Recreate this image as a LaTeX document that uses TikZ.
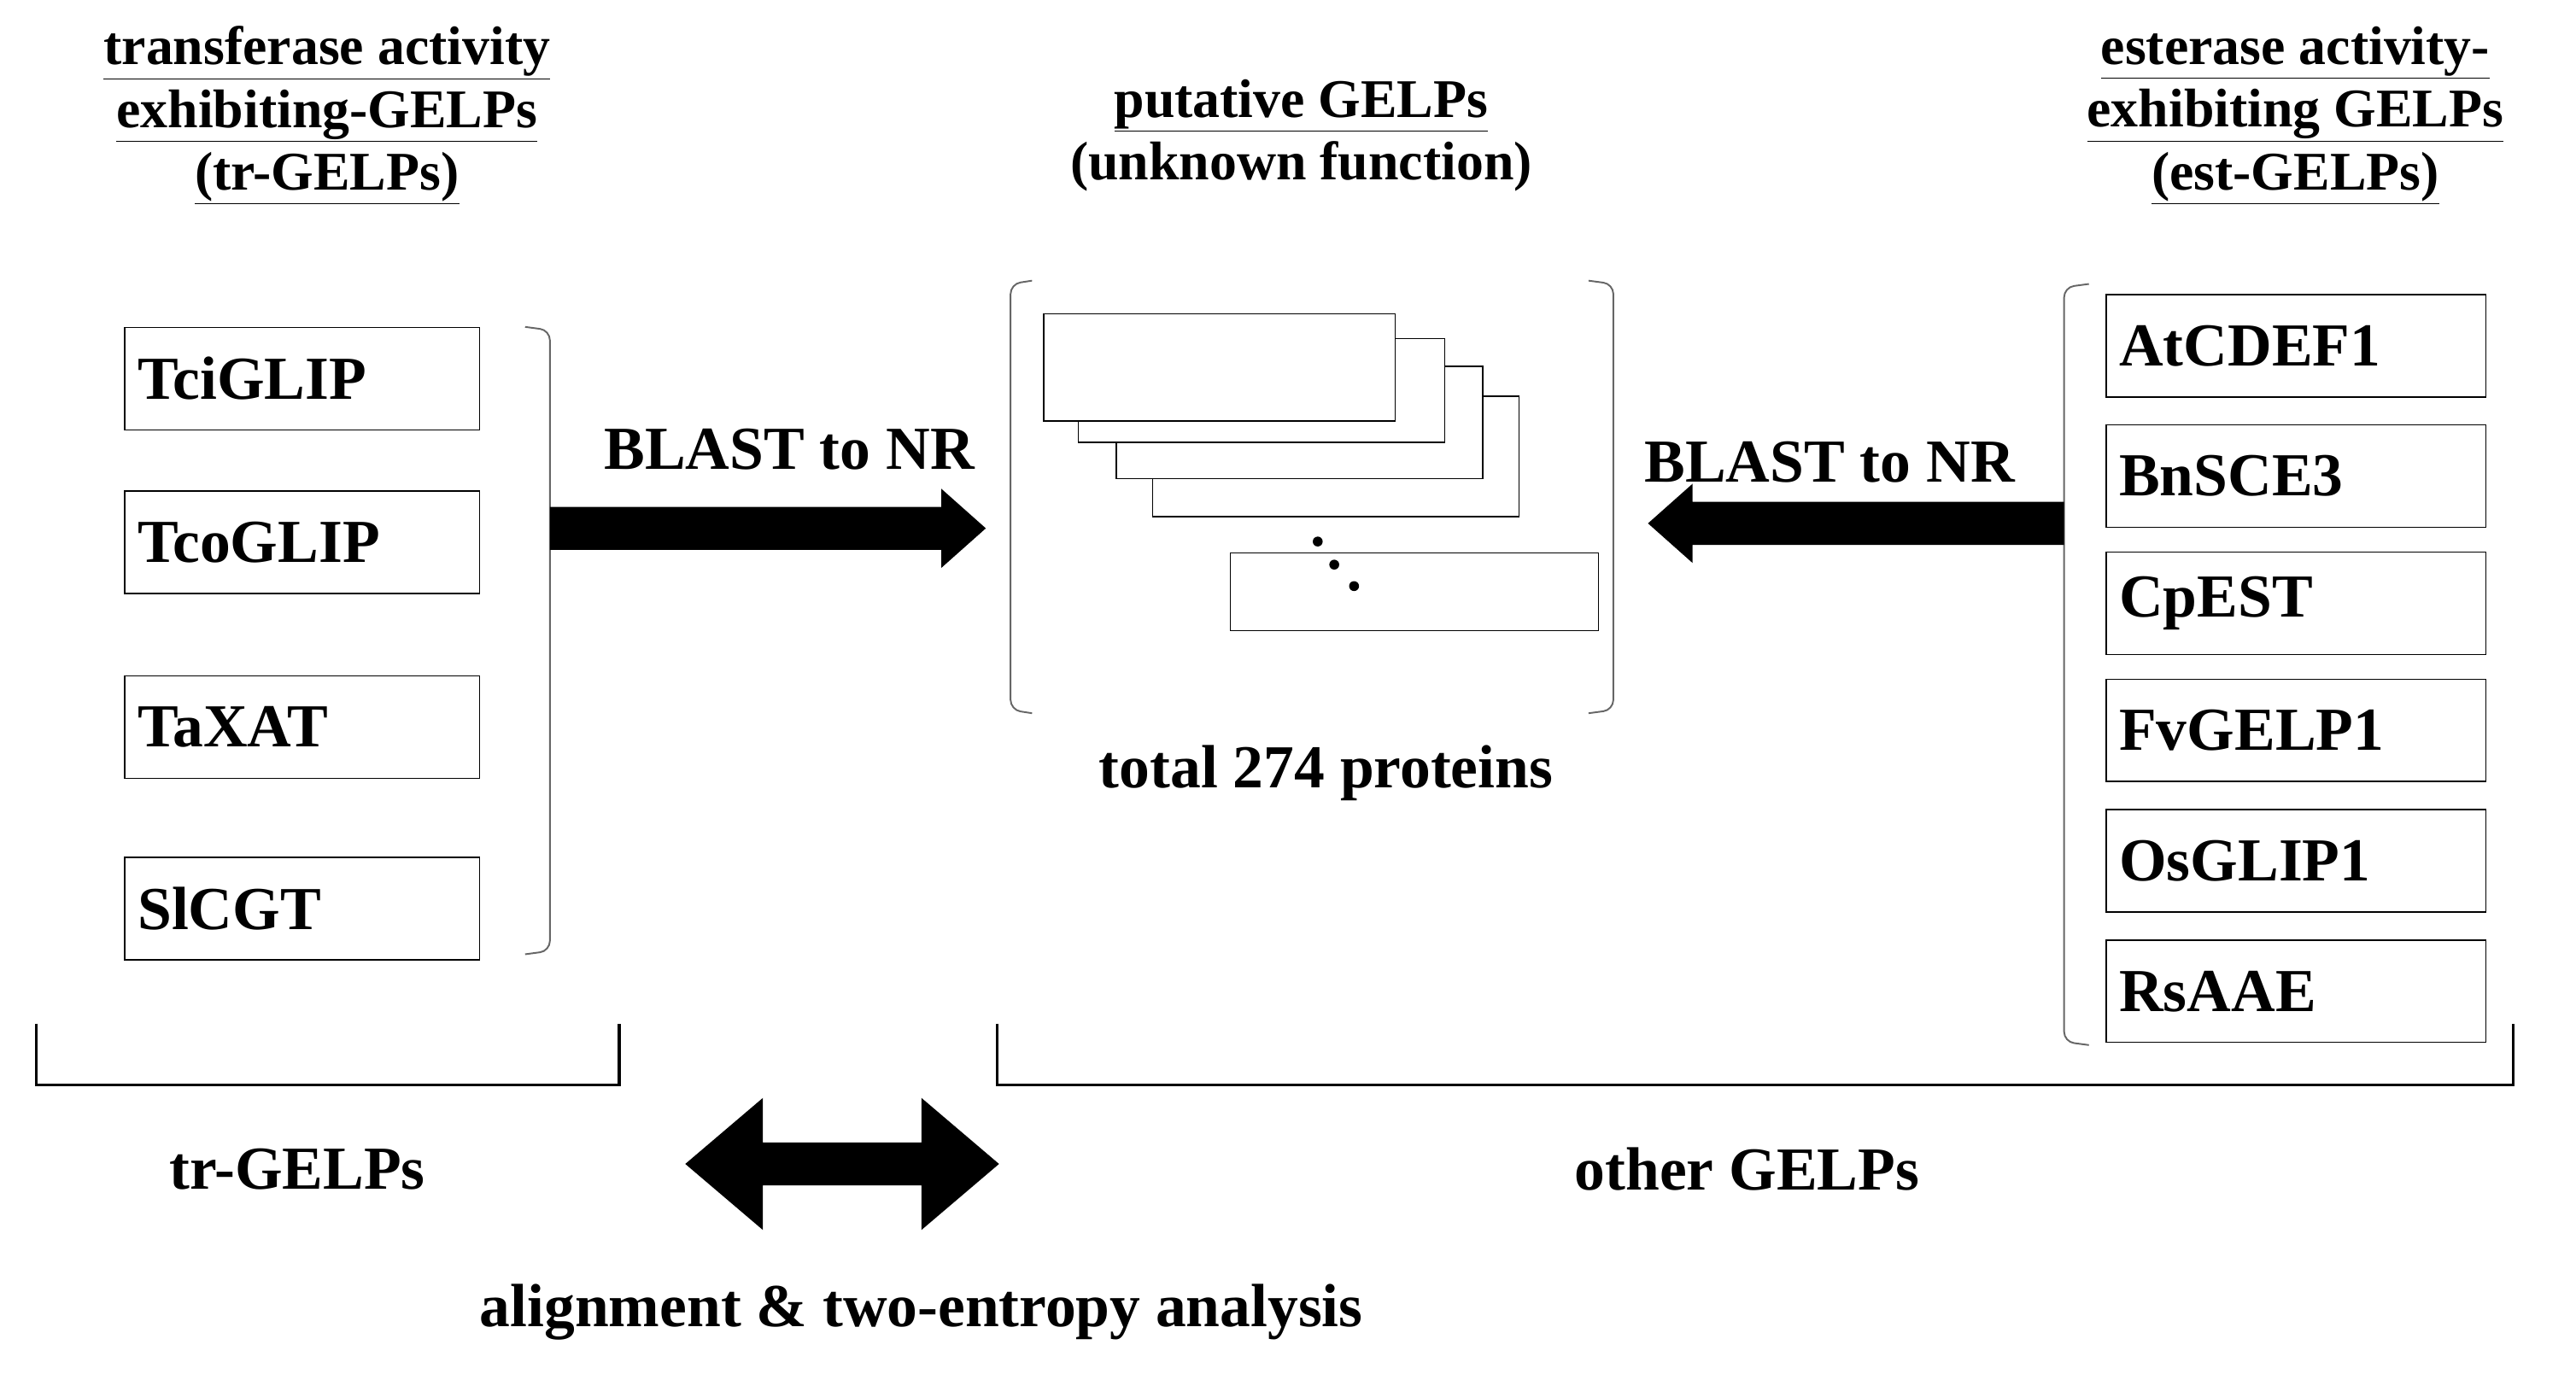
\documentclass[tikz,border=0pt]{standalone}
\usepackage{fontspec}
\setmainfont{Liberation Serif}
\begin{document}
\begin{tikzpicture}[x=1pt,y=-1pt,
 hd/.style={font=\fontsize{33}{38}\selectfont\bfseries,align=center},
 tx/.style={font=\fontsize{37}{42}\selectfont\bfseries},
 bx/.style={draw,line width=0.8pt,minimum height=62pt,anchor=north west,inner sep=8pt,font=\fontsize{37}{42}\selectfont\bfseries},
 br/.style={draw=black!60,line width=1pt,rounded corners=6pt},
 ar/.style={fill=black},
 st/.style={draw,line width=0.8pt,fill=white}]
\useasboundingbox (0,0) rectangle (1560,832);
% headings
\node[hd] (h1) at (198,70) {\underline{transferase activity}\\\underline{exhibiting-GELPs}\\\underline{(tr-GELPs)}};
\node[hd] (h2) at (788,82) {\underline{putative GELPs}\\(unknown function)};
\node[hd] (h3) at (1390,70) {\underline{esterase activity-}\\\underline{exhibiting GELPs}\\\underline{(est-GELPs)}};
% left boxes
\foreach \n/\t/\y in {l1/TciGLIP/198,l2/TcoGLIP/297,l3/TaXAT/409,l4/SlCGT/519}
  \node[bx,minimum width=215pt,align=left,text width=199pt] (\n) at (75,\y) {\t};
\draw[br] (318,198) -- (333,200) -- (333,576) -- (318,578);
% right boxes
\foreach \n/\t/\y in {r1/AtCDEF1/178,r2/BnSCE3/257,r3/CpEST/334,r4/FvGELP1/411,r5/OsGLIP1/490,r6/RsAAE/569}
  \node[bx,minimum width=230pt,align=left,text width=214pt] (\n) at (1275,\y) {\t};
\draw[br] (1265,172) -- (1250,174) -- (1250,631) -- (1265,633);
% middle bracket
\draw[br] (625,170) -- (612,172) -- (612,430) -- (625,432);
\draw[br] (962,170) -- (977,172) -- (977,430) -- (962,432);
\draw[st] (698,240) rectangle (920,313);
\draw[st] (676,222) rectangle (898,290);
\draw[st] (653,205) rectangle (875,268);
\draw[st] (632,190) rectangle (845,255);
\draw[st] (745,335) rectangle (968,382);
\foreach \p in {(798,328),(808,342),(820,355)} \fill \p circle (3pt);
\node[tx] (tot) at (803,468) {total 274 proteins};
% arrows
\fill[ar] (333,307) -- (570,307) -- (570,296) -- (597,320) -- (570,344) -- (570,333) -- (333,333) -- cycle;
\node[tx] (b1) at (478,272) {BLAST to NR};
\fill[ar] (1250,304) -- (1025,304) -- (1025,293) -- (998,317) -- (1025,341) -- (1025,330) -- (1250,330) -- cycle;
\node[tx] (b2) at (1108,280) {BLAST to NR};
% under brackets
\draw[line width=1.6pt] (22,620) -- (22,657) -- (375,657) -- (375,620);
\draw[line width=1.6pt] (604,620) -- (604,657) -- (1522,657) -- (1522,620);
\node[tx] (tr) at (180,708) {tr-GELPs};
\node[tx] (ot) at (1058,708) {other GELPs};
\fill[ar] (415,705) -- (462,665) -- (462,692) -- (558,692) -- (558,665) -- (605,705) -- (558,745) -- (558,718) -- (462,718) -- (462,745) -- cycle;
\node[tx] (al) at (558,795) {alignment \& two-entropy analysis};
\end{tikzpicture}
\end{document}
